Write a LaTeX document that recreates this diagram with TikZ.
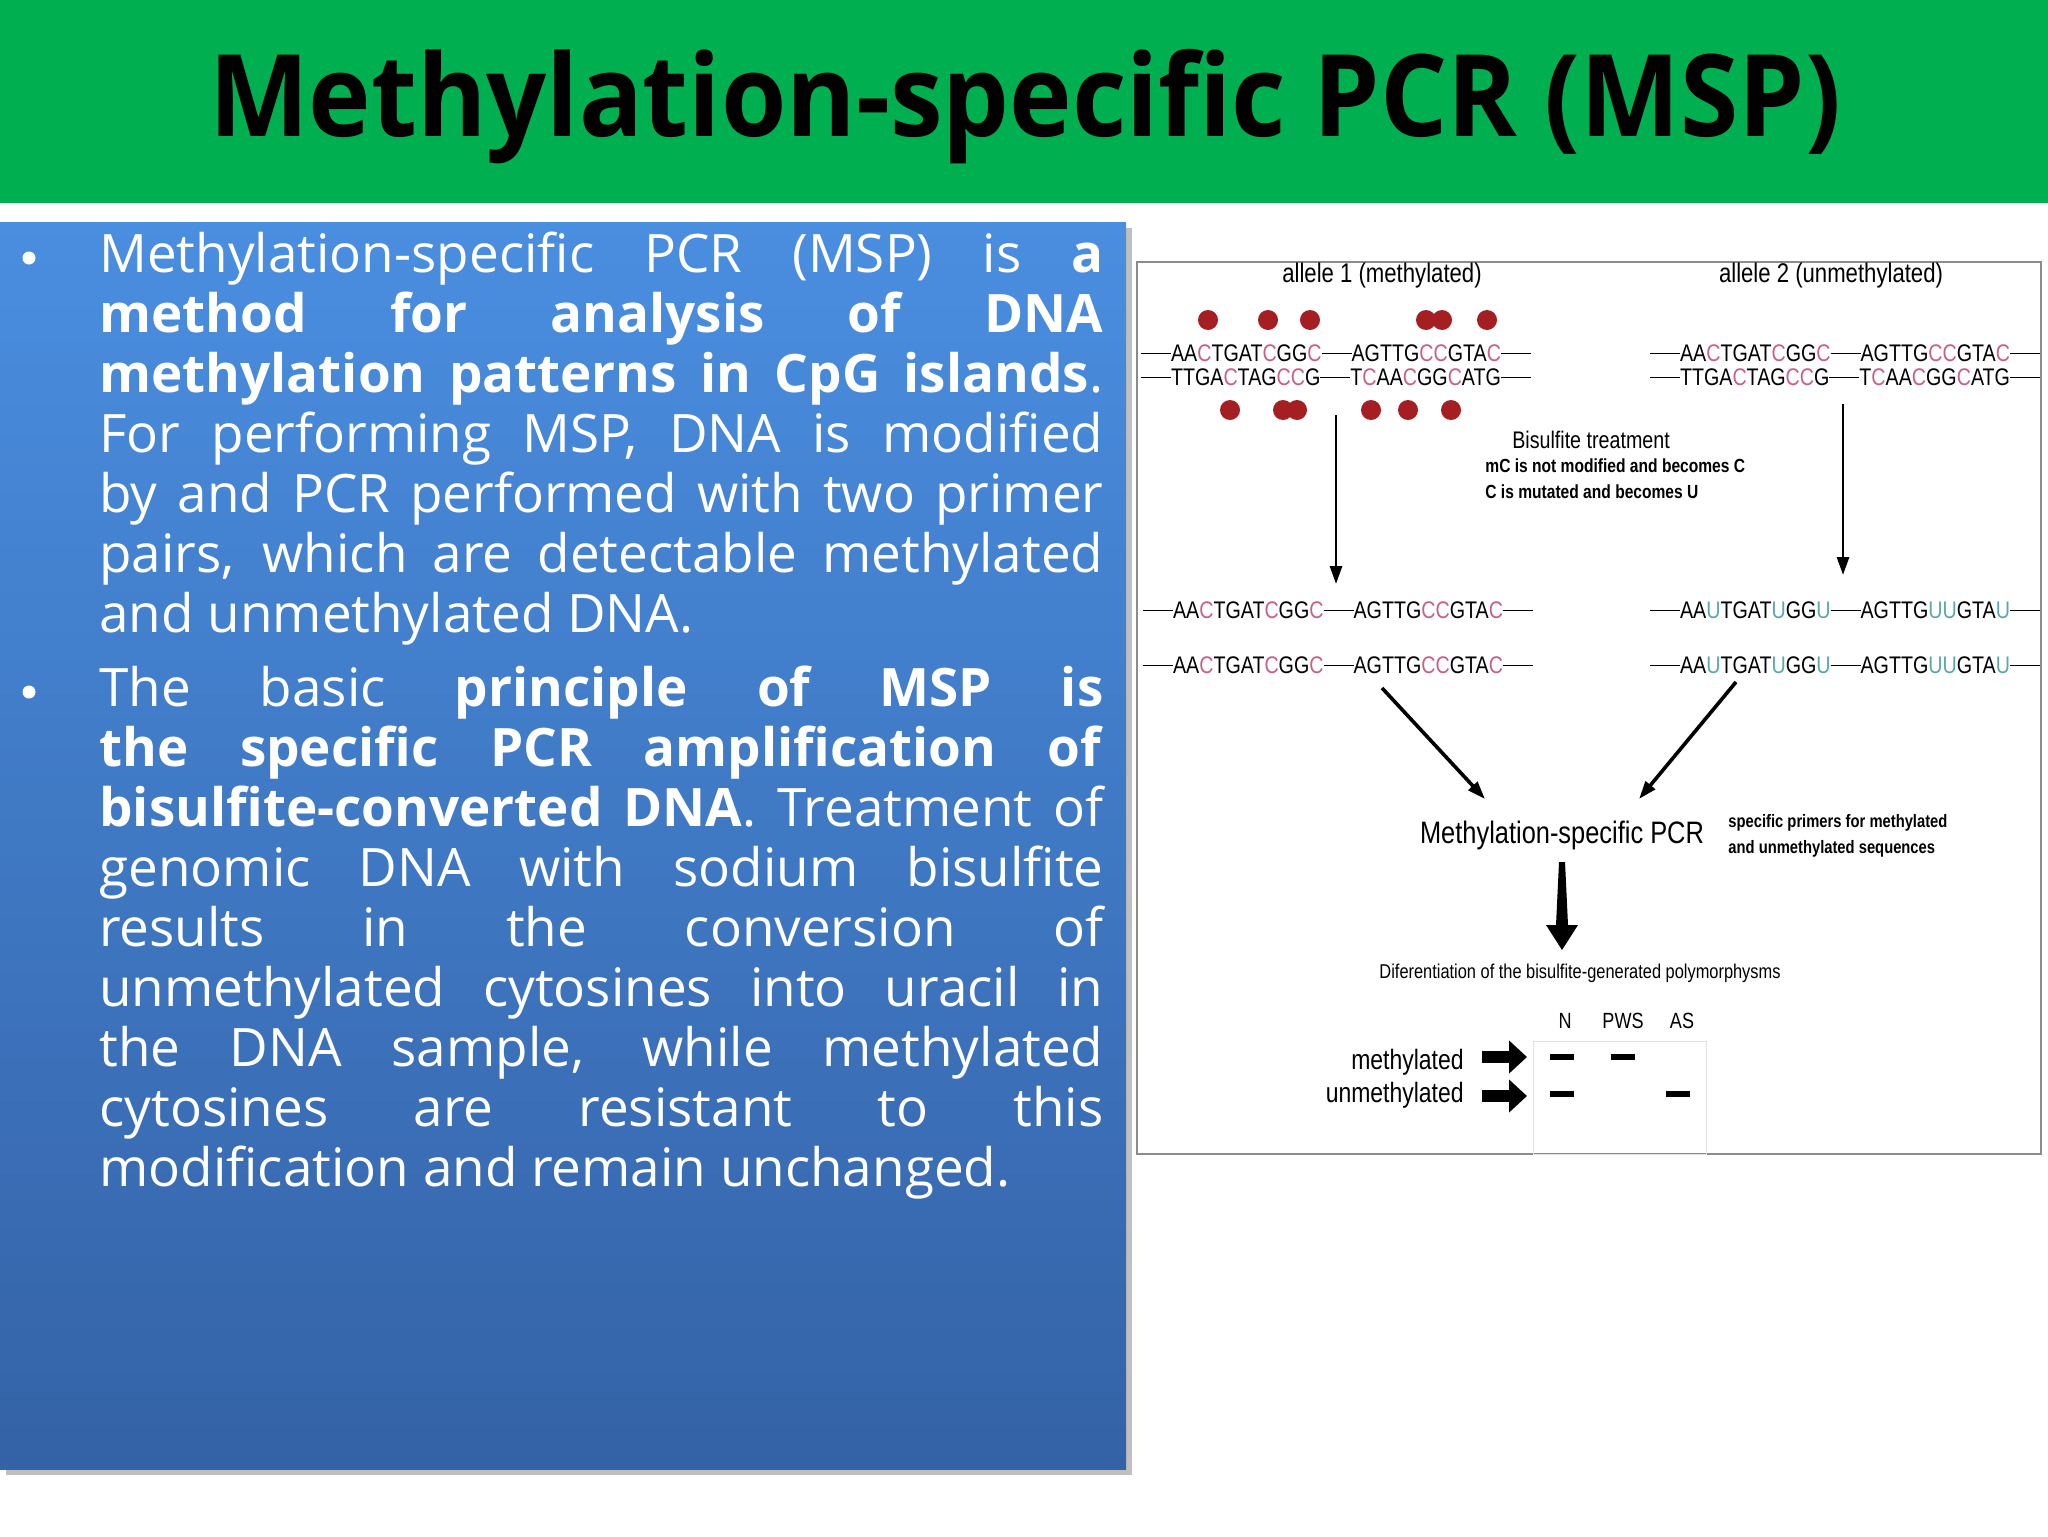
\documentclass[tikz,border=0pt]{standalone}
\usepackage{fontspec}
\setmainfont{Open Sans}
\newfontfamily\df[FakeStretch=0.82]{Liberation Sans}
\usetikzlibrary{arrows.meta}
\definecolor{barG}{HTML}{00B050}
\definecolor{blT}{HTML}{4A8EE0}
\definecolor{blB}{HTML}{3462A6}
\definecolor{dotR}{HTML}{A51E22}
\definecolor{pk}{HTML}{C8608A}
\definecolor{tl}{HTML}{5AA8A8}
\newsavebox\tbox
\newcommand{\ds}{\rule[0.3em]{15pt}{0.5pt}}
\newcommand{\pc}[1]{\textcolor{pk}{#1}}
\newcommand{\tu}[1]{\textcolor{tl}{#1}}
\tikzset{
  lab/.style={font=\df\fontsize{13.5}{15}\selectfont, inner sep=0pt},
  sq/.style={font=\df\fontsize{12}{14}\selectfont, inner sep=0pt},
  sm/.style={font=\df\bfseries\fontsize{9.5}{11}\selectfont, inner sep=0pt},
  mdot/.style={circle, fill=dotR, minimum size=10pt, inner sep=0pt},
  thinarr/.style={line width=1.4pt, -{Triangle[length=9pt,width=6pt]}},
  band/.style={line width=3pt},
  blockarr/.style={line width=6pt, -{Triangle[length=9pt,width=16pt]}},
  body/.style={text=white, inner sep=0pt, anchor=north west, text width=502pt, align=justify},
  bul/.style={circle, fill=white, minimum size=6.5pt, inner sep=0pt},
}
\begin{document}
\sbox\tbox{\fontsize{57}{60}\selectfont\bfseries Methylation-specific PCR (MSP)}%
\pgfmathsetmacro\sx{816/\the\wd\tbox}%
\begin{tikzpicture}[x=0.5pt,y=-0.5pt]
\useasboundingbox (0,0) rectangle (2048,1536);
\fill[white] (0,0) rectangle (2048,1536);
% title bar
\fill[barG] (0,0) rectangle (2048,203);
\node[inner sep=0pt] (title) at (1025,107) {\scalebox{\sx}[1]{\usebox\tbox}};
% blue panel
\fill[black!25] (6,228) rectangle (1132,1475);
\shade[top color=blT, bottom color=blB] (0,222) rectangle (1126,1469);
\node[bul] (b1) at (29,258) {};
\node[bul] (b2) at (29,692) {};
\node[body] (t1) at (99,232)
{\fontsize{26.5}{30}\selectfont Methylation-specific PCR (MSP) is \textbf{a}\linebreak
\textbf{method for analysis of DNA}\linebreak
\textbf{methylation patterns in CpG islands}.\linebreak
For performing MSP, DNA is modified\linebreak
by and PCR performed with two primer\linebreak
pairs, which are detectable methylated\linebreak
and unmethylated DNA.\par};
\node[body] (t2) at (99,666)
{\fontsize{26.5}{30}\selectfont The basic \textbf{principle of MSP is}\linebreak
\textbf{the specific PCR amplification of}\linebreak
\textbf{bisulfite-converted DNA}. Treatment of\linebreak
genomic DNA with sodium bisulfite\linebreak
results in the conversion of\linebreak
unmethylated cytosines into uracil in\linebreak
the DNA sample, while methylated\linebreak
cytosines are resistant to this\linebreak
modification and remain unchanged.\par};
% diagram box
\draw[black!45, line width=1.2pt] (1137,262) rectangle (2041,1154);
\node[lab] (a1) at (1382,276) {allele 1 (methylated)};
\node[lab] (a2) at (1831,276) {allele 2 (unmethylated)};
% dots
\foreach \x [count=\i] in {1208,1268,1310,1426,1442,1487}
  \node[mdot] (dt\i) at (\x,320) {};
\foreach \x [count=\i] in {1230,1283,1297,1371,1408,1451}
  \node[mdot] (db\i) at (\x,410) {};
% sequences
\node[sq] (s1t) at (1336,353) {\ds AA\pc{C}TGAT\pc{C}GG\pc{C}\ds AGTTG\pc{CC}GTA\pc{C}\ds};
\node[sq] (s1b) at (1336,377) {\ds TTGA\pc{C}TAG\pc{CC}G\ds T\pc{C}AA\pc{C}GG\pc{C}ATG\ds};
\node[sq] (s2t) at (1845,353) {\ds AA\pc{C}TGAT\pc{C}GG\pc{C}\ds AGTTG\pc{CC}GTA\pc{C}\ds};
\node[sq] (s2b) at (1845,377) {\ds TTGA\pc{C}TAG\pc{CC}G\ds T\pc{C}AA\pc{C}GG\pc{C}ATG\ds};
% bisulfite text
\node[font=\df\fontsize{12}{13}\selectfont, inner sep=0pt] (bt) at (1591,440) {Bisulfite treatment};
\node[sm, anchor=west] (bt1) at (1485,466) {mC is not modified and becomes C};
\node[sm, anchor=west] (bt2) at (1485,492) {C is mutated and becomes U};
% vertical arrows
\coordinate (v1s) at (1336,415); \coordinate (v1e) at (1336,584);
\coordinate (v2s) at (1843,404); \coordinate (v2e) at (1843,575);
\draw[thinarr] (v1s) -- (v1e);
\draw[thinarr] (v2s) -- (v2e);
% converted
\node[sq] (c1a) at (1338,610) {\ds AA\pc{C}TGAT\pc{C}GG\pc{C}\ds AGTTG\pc{CC}GTA\pc{C}\ds};
\node[sq] (c1b) at (1338,665) {\ds AA\pc{C}TGAT\pc{C}GG\pc{C}\ds AGTTG\pc{CC}GTA\pc{C}\ds};
\node[sq] (c2a) at (1845,610) {\ds AA\tu{U}TGAT\tu{U}GG\tu{U}\ds AGTTG\tu{UU}GTA\tu{U}\ds};
\node[sq] (c2b) at (1845,665) {\ds AA\tu{U}TGAT\tu{U}GG\tu{U}\ds AGTTG\tu{UU}GTA\tu{U}\ds};
% diagonal arrows
\coordinate (d1s) at (1382,688); \coordinate (d1e) at (1485,799);
\coordinate (d2s) at (1736,682); \coordinate (d2e) at (1639,799);
\draw[thinarr, line width=1.8pt] (d1s) -- (d1e);
\draw[thinarr, line width=1.8pt] (d2s) -- (d2e);
\node[font=\df\fontsize{15.5}{17}\selectfont, inner sep=0pt] (msp) at (1562,835) {Methylation-specific PCR};
\node[font=\df\bfseries\fontsize{9}{13}\selectfont, inner sep=0pt, anchor=west, align=left] (pr) at (1728,836)
 {specific primers for methylated\\and unmethylated sequences};
% wedge arrow
\fill (1559,862) -- (1565,862) -- (1568,925) -- (1578,925) -- (1562,950) -- (1546,925) -- (1556,925) -- cycle;
\node[font=\df\fontsize{10}{12}\selectfont, inner sep=0pt] (dif) at (1580,973) {Diferentiation of the bisulfite-generated polymorphysms};
\node[font=\df\fontsize{11}{12}\selectfont, inner sep=0pt] (hN) at (1565,1021) {N};
\node[font=\df\fontsize{11}{12}\selectfont, inner sep=0pt] (hP) at (1623,1021) {PWS};
\node[font=\df\fontsize{11}{12}\selectfont, inner sep=0pt] (hA) at (1682,1021) {AS};
\draw[black!12] (1533,1041) rectangle (1706,1154);
\node[font=\df\fontsize{14}{16}\selectfont, inner sep=0pt, anchor=east] (lm) at (1464,1062) {methylated};
\node[font=\df\fontsize{14}{16}\selectfont, inner sep=0pt, anchor=east] (lu) at (1464,1095) {unmethylated};
\coordinate (am1) at (1482,1057); \coordinate (am2) at (1527,1057);
\coordinate (au1) at (1482,1096); \coordinate (au2) at (1527,1096);
\draw[blockarr] (am1) -- (am2);
\draw[blockarr] (au1) -- (au2);
\draw[band] (1550,1057) -- (1574,1057);
\draw[band] (1611,1057) -- (1635,1057);
\draw[band] (1550,1094) -- (1574,1094);
\draw[band] (1666,1094) -- (1690,1094);
\end{tikzpicture}
\end{document}
